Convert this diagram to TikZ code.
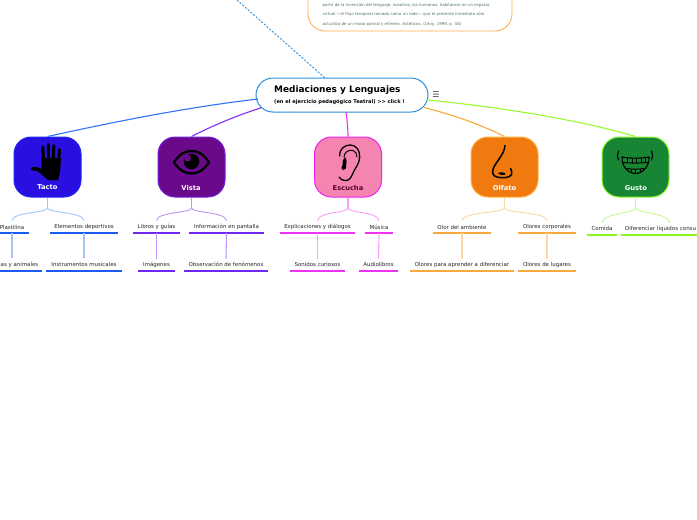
\documentclass[tikz,border=0pt]{standalone}
\usepackage{fontspec}
\setmainfont{DejaVu Sans}
\usetikzlibrary{calc}
\definecolor{cTa}{HTML}{2F74F8}\definecolor{cTb}{HTML}{A4C2FB}\definecolor{cTu}{HTML}{1A5CF0}
\definecolor{cVa}{HTML}{8030F5}\definecolor{cVb}{HTML}{BC96F8}\definecolor{cVu}{HTML}{7028F0}
\definecolor{cEa}{HTML}{F030F2}\definecolor{cEb}{HTML}{F7A0F8}\definecolor{cEu}{HTML}{F030F2}
\definecolor{cOa}{HTML}{FBA93C}\definecolor{cOb}{HTML}{FDD8A4}\definecolor{cOu}{HTML}{FBA93C}
\definecolor{cGa}{HTML}{98FA30}\definecolor{cGb}{HTML}{C8FA94}\definecolor{cGu}{HTML}{8EF51E}
\definecolor{rootline}{HTML}{2F8FD8}
\definecolor{boxtext}{HTML}{4F7262}
\definecolor{quoteline}{HTML}{FAB250}
\definecolor{fillT}{HTML}{2A10E0}\definecolor{drawT}{HTML}{1E28F0}
\definecolor{fillV}{HTML}{6A0A8A}\definecolor{drawV}{HTML}{7020E0}
\definecolor{fillE}{HTML}{F584B0}\definecolor{drawE}{HTML}{F020F0}\definecolor{textE}{HTML}{5A0030}
\definecolor{fillO}{HTML}{F07A10}\definecolor{drawO}{HTML}{FFB040}
\definecolor{fillG}{HTML}{188535}\definecolor{drawG}{HTML}{90FF30}
\tikzset{
  x=1pt,y=-1pt,
  rootbox/.style={draw=rootline,fill=white,line width=1pt,rounded corners=17,minimum width=172,minimum height=34,inner sep=0},
  sense/.style={rounded corners=17,minimum width=67,minimum height=60,inner sep=0,line width=1pt},
  senselabel/.style={font=\bfseries\fontsize{6.7}{8}\selectfont,inner sep=0,anchor=center},
  leaf/.style={font=\fontsize{5.45}{6}\selectfont,inner sep=0,minimum height=12,anchor=south,text=black!85},
  ulline/.style={line width=1.5pt},
  stem/.style={line width=1.4pt},
  fork/.style={line width=0.9pt},
  link/.style={line width=1.1pt},
  main/.style={line width=1.1pt},
  ink/.style={draw=black,line cap=round,line join=round}
}
% [text drop], name, x-left, x-right, y of the underline, text, underline colour
\newcommand{\leafnode}[7][4.5pt]{%
  \node[leaf,minimum width={(#4)-(#3)}] (#2) at ({((#3)+(#4))/2},#5) {\raisebox{-#1}{#6}};
  \draw[ulline,#7] (#2.south west) -- (#2.south east);}
\newcommand{\forkto}[3]{\draw[fork,#3] (#1) .. controls +(0,5) and ($(#2.north)+(0,-9)$) .. (#2.north);}
\begin{document}
\begin{tikzpicture}
\useasboundingbox (0,0) rectangle (697,520);
\clip (0,0) rectangle (697,520);
\fill[white] (0,0) rectangle (697,520);

% quote box, cut by the top edge
\node[draw=quoteline,fill=white,line width=0.9pt,rounded corners=17,minimum width=204,minimum height=60,inner sep=0] (quote) at (410,1) {};
\node[font=\fontsize{3.95}{9.2}\selectfont,text=boxtext,align=left,anchor=north west,inner sep=0] (quotetext) at (322.5,3.4)
 {partir de la invención del lenguaje, nosotros, los humanos, habitamos en un espacio\\
  virtual —el flujo temporal tomado como un todo— que el presente inmediato sólo\\
  actualiza de un modo parcial y efímero. Estéticos. (Lévy, 1999, p. 58)};

% root
\node[rootbox] (root) at (342,95) {};
\node[font=\bfseries\fontsize{8.95}{9}\selectfont,anchor=west,inner sep=0] (title) at (274,90) {Mediaciones y Lenguajes};
\node[font=\bfseries\fontsize{5.1}{6}\selectfont,anchor=west,inner sep=0] (subtitle) at (274,102) {(en el ejercicio pedagógico Teatral) >{}> click !};
\node[font=\fontsize{8}{9}\selectfont,inner sep=0,text=black!75] (menu) at (436,95) {☰};

\coordinate (farlink) at (237,0);
\draw[rootline,line width=0.9pt,dash pattern=on 2pt off 1.6pt] (farlink) -- (325,78);

% senses
\node[sense,draw=drawT,fill=fillT] (tacto) at (47.5,167) {};
\node[sense,draw=drawV,fill=fillV] (vista) at (191.5,167) {};
\node[sense,draw=drawE,fill=fillE] (escucha) at (348,167) {};
\node[sense,draw=drawO,fill=fillO] (olfato) at (504.5,167) {};
\node[sense,draw=drawG,fill=fillG] (gusto) at (635.5,167) {};

\node[senselabel,text=white] (ltacto) at (47.5,187) {Tacto};
\node[senselabel,text=white] (lvista) at (191,188.3) {Vista};
\node[senselabel,text=textE] (lescucha) at (348,188.3) {Escucha};
\node[senselabel,text=white] (lolfato) at (504.5,188.3) {Olfato};
\node[senselabel,text=white] (lgusto) at (636,188.3) {Gusto};

% main connectors
\draw[main,cTa] (258,99) .. controls (180,108) and (100,125) .. (tacto.north);
\draw[main,cVa] (262,107.5) .. controls (235,116) and (210,127) .. (vista.north);
\draw[main,cEa] (346,112) .. controls (347,120) and (348,128) .. (escucha.north);
\draw[main,cOa] (424,107.5) .. controls (450,114) and (480,124) .. (olfato.north);
\draw[main,cGa] (427,100) .. controls (500,107) and (580,120) .. (gusto.north);

% Tacto leaves
\leafnode{t1}{-5}{29}{233.2}{Plastilina}{cTu}
\leafnode{t2}{50}{118}{233.2}{Elementos deportivos}{cTu}
\leafnode[1.9pt]{t3}{-18}{42}{270.8}{\hspace*{15pt}as y animales}{cTu}
\leafnode[1.9pt]{t4}{46}{122}{270.8}{Instrumentos musicales}{cTu}
% Vista leaves
\leafnode{v1}{133}{180}{233.2}{Libros y guías}{cVu}
\leafnode{v2}{189}{264}{233.2}{Información en pantalla}{cVu}
\leafnode[3.5pt]{v3}{138}{175}{271}{Imágenes}{cVu}
\leafnode[3.5pt]{v4}{184}{268}{271}{Observación de fenómenos}{cVu}
% Escucha leaves
\leafnode{e1}{280}{355}{233.2}{Explicaciones y diálogos}{cEu}
\leafnode{e2}{365}{393}{233.2}{Música}{cEu}
\leafnode[3.5pt]{e3}{290}{345}{271}{Sonidos curiosos}{cEu}
\leafnode[3.5pt]{e4}{359}{398}{271}{Audiolibros}{cEu}
% Olfato leaves
\leafnode{o1}{433}{491}{233.2}{Olor del ambiente}{cOu}
\leafnode{o2}{518}{576}{233.2}{Olores corporales}{cOu}
\leafnode[3.5pt]{o3}{410}{514}{271}{Olores para aprender a diferenciar}{cOu}
\leafnode[3.5pt]{o4}{518}{576}{271}{Olores de lugares}{cOu}
% Gusto leaves
\leafnode[2.9pt]{g1}{587}{617}{235}{Comida}{cGu}
\node[leaf,anchor=south west,minimum width=80,align=left,text width=80] (g2) at (621,235) {\raisebox{-2.9pt}{\hspace*{4pt}Diferenciar líquidos consu}};
\draw[ulline,cGu] (g2.south west) -- (g2.south east);

% stems and forks
\coordinate (jt) at (47.5,208); \coordinate (jv) at (191.5,208); \coordinate (je) at (348,208);
\coordinate (jo) at (504.5,208); \coordinate (jg) at (635.5,208);
\draw[stem,cTb] (tacto.south) -- (jt); \forkto{jt}{t1}{cTb} \forkto{jt}{t2}{cTb}
\draw[stem,cVb] (vista.south) -- (jv); \forkto{jv}{v1}{cVb} \forkto{jv}{v2}{cVb}
\draw[stem,cEb] (escucha.south) -- (je); \forkto{je}{e1}{cEb} \forkto{je}{e2}{cEb}
\draw[stem,cOb] (olfato.south) -- (jo); \forkto{jo}{o1}{cOb} \forkto{jo}{o2}{cOb}
\draw[stem,cGb] (gusto.south) -- (jg); \forkto{jg}{g1}{cGb}
\coordinate (g2top) at (670,223);
\draw[fork,cGb] (jg) .. controls +(0,5) and (667,212) .. (g2top);

% second-level links
\draw[link,cTb] (t1.south) -- (t3.north);
\draw[link,cTb] (t2.south) -- (t4.north);
\draw[link,cVb] (v1.south) -- (v3.north);
\draw[link,cVb] (v2.south) -- (v4.north);
\draw[link,cEb] (e1.south) -- (e3.north);
\draw[link,cEb] (e2.south) -- (e4.north);
\draw[link,cOb] (o1.south) -- (o1.south |- o3.north);
\draw[link,cOb] (o2.south) -- (o4.north);

% hand icon
\draw[ink,line width=3.1pt] (43.5,162) -- (42.8,147);
\draw[ink,line width=3.1pt] (48.5,160) -- (48.3,144.5);
\draw[ink,line width=3pt] (53.5,160) -- (53.8,145.5);
\draw[ink,line width=2.9pt] (58.7,162) -- (59.5,149.5);
\fill[black] (41.5,158) -- (61,158) .. controls (60.5,168) and (60,174) .. (58,180)
  -- (48,180) .. controls (44,177) and (41,173) .. (38,171.5) -- (31.5,170)
  .. controls (30.5,169) and (31,167.5) .. (33,167) .. controls (36,166.5) and (39,167.5) .. (41.5,169) -- cycle;

% eye icon
\draw[ink,line width=2.4pt] (174,162.5) .. controls (180,153) and (186,151) .. (191.5,151)
   .. controls (197,151) and (203,153) .. (209,162.5)
   .. controls (203,171) and (197,173.5) .. (191.5,173.5)
   .. controls (186,173.5) and (180,171) .. (174,162.5) -- cycle;
\fill[black] (191.5,161.5) circle (7.8);
\fill[fillV] (187.5,158) circle (3.5);

% ear icon
\draw[ink,line width=1.3pt] (339.8,156) .. controls (339,149) and (345,145) .. (350,145)
  .. controls (356,145) and (360,150) .. (359.7,157)
  .. controls (359.5,164) and (355,168) .. (353,173)
  .. controls (351,178) and (349,181) .. (345,180.5)
  .. controls (342,180.5) and (340.5,179) .. (339,177);
\draw[ink,line width=1pt] (344,157) .. controls (344,152) and (349,149.5) .. (353,150.5) .. controls (356,151.5) and (357,154) .. (357,157);
\fill[black] (345,157) .. controls (347,160) and (347,163) .. (346,165)
  .. controls (347,168) and (345,170.5) .. (343,170) .. controls (341,169.5) and (341,167) .. (342.5,165)
  .. controls (342,162) and (343,159) .. (345,157) -- cycle;

% nose icon
\draw[ink,line width=1.5pt] (505,145.5) .. controls (504.5,154) and (496,162) .. (493.5,168)
  .. controls (491.5,173) and (493,176.5) .. (498,177.3)
  .. controls (503,178) and (510,178) .. (511.5,174.5) .. controls (512.3,172) and (511.5,170) .. (510.5,168.5);
\fill[black] (498,173.5) .. controls (500,171.5) and (504,172) .. (506,174) .. controls (503,175.5) and (500,175.5) .. (498,173.5) -- cycle;

% mouth icon
\draw[ink,line width=1.1pt] (618.5,151) .. controls (617,154) and (617,157) .. (618.5,160);
\draw[ink,line width=1.1pt] (651.5,151) .. controls (653,154) and (653,157) .. (651.5,160);
\draw[ink,line width=1.1pt] (622,157) .. controls (630,158.5) and (641,158.5) .. (649,157)
  .. controls (649.5,166) and (643,173.5) .. (635.5,173.5)
  .. controls (628,173.5) and (621.5,166) .. (622,157) -- cycle;
\draw[ink,line width=1pt] (623,162.5) .. controls (630,163.2) and (641,163.2) .. (648,162.5);
\foreach \tx in {627.5,632,636.5,641,645}{\draw[black,line width=0.9pt] (\tx,158) -- (\tx,162.8);}
\draw[ink,line width=1pt] (627,168.5) .. controls (632,169.5) and (639,169.5) .. (644,168.5);
\foreach \tx in {631,635.5,640}{\draw[black,line width=0.9pt] (\tx,169) -- (\tx,173);}
\end{tikzpicture}
\end{document}
